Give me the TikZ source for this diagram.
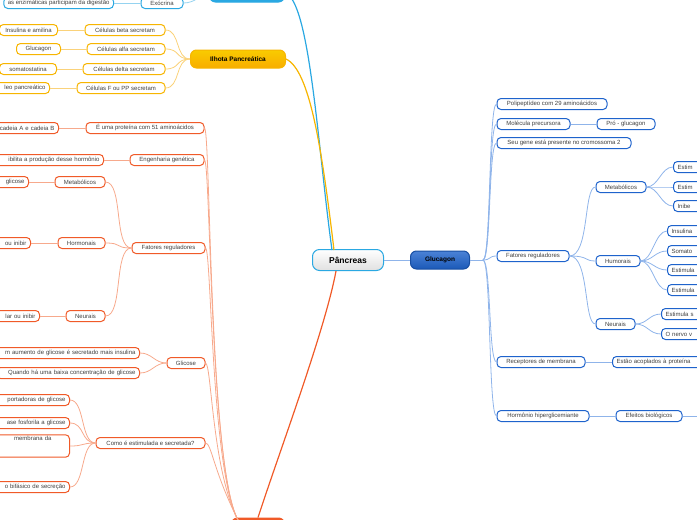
\documentclass[tikz,border=0pt]{standalone}
\usepackage{fontspec}
\setmainfont{Liberation Sans}
\definecolor{bbd}{HTML}{1E63CC}
\definecolor{bln}{HTML}{8FB4EA}
\definecolor{obd}{HTML}{F05A28}
\definecolor{oln}{HTML}{F7A98C}
\definecolor{ybd}{HTML}{F7B500}
\definecolor{yln}{HTML}{FAD27A}
\definecolor{cbd}{HTML}{2AA8E2}
\begin{document}
\begin{tikzpicture}[x=1pt,y=-1pt,
  every node/.style={font=\fontsize{6}{7}\selectfont, text=black!75, inner ysep=1.5pt, inner xsep=4pt, minimum height=11pt, rounded corners=4pt, line width=1pt, fill=white},
  ob/.style={draw=obd},
  bb/.style={draw=bbd},
  yb/.style={draw=ybd},
  cb/.style={draw=cbd},
  oL/.style={draw=obd, anchor=east, align=right},
  bR/.style={draw=bbd, anchor=west, align=left, text width=60pt},
  yL/.style={draw=ybd, anchor=east, align=right},
  ol/.style={draw=oln, line width=0.8pt},
  bl/.style={draw=bln, line width=0.8pt},
  yl/.style={draw=yln, line width=0.8pt},
]
\useasboundingbox (0,0) rectangle (697,520);
\clip (0,0) rectangle (697,520);

% main nodes
\node[draw=cbd, top color=white, bottom color=black!12, minimum width=71pt, minimum height=21pt, rounded corners=7pt, font=\fontsize{8.5}{9}\selectfont\bfseries, text=black] (p) at (348,260) {Pâncreas};
\node[draw=bbd!80!black, top color=bbd!80, bottom color=bbd!90!black, minimum width=59pt, minimum height=18pt, rounded corners=6pt, font=\fontsize{6.5}{7}\selectfont\bfseries, text=black] (g) at (440,260) {Glucagon};
\node[draw=ybd, top color=ybd!70!yellow, bottom color=ybd!85!orange, minimum width=95pt, minimum height=18pt, rounded corners=6pt, font=\fontsize{6.5}{7}\selectfont\bfseries, text=black] (ih) at (238,59) {Ilhota Pancreática};
\node[draw=cbd, fill=cbd, minimum width=75pt, minimum height=18pt, rounded corners=6pt] (ex0) at (247,-7) {};
\node[draw=obd, fill=obd, minimum width=53pt, minimum height=18pt, rounded corners=6pt] (bo) at (258,527) {};
\coordinate (boin) at (238,520);

% trunks to Pancreas
\draw[draw=cbd, line width=1.2pt] (ex0.east) .. controls (310,0) and (318,150) .. (332,250);
\draw[draw=ybd, line width=1.2pt] (ih.east) .. controls (310,70) and (322,150) .. (334,250);
\draw[draw=obd, line width=1.2pt] (336,271) .. controls (325,330) and (280,450) .. (bo.north);
\draw[bl, line width=1pt] (p.east) -- (g.west);

% top cyan
\node[cb, minimum width=42pt] (exo) at (162,3) {Exócrina};
\node[draw=cbd, anchor=east, align=right] (exl) at (114,3) {as enzimáticas participam da digestão};
\draw[draw=cbd!50, line width=0.8pt] (exo.west) -- (exl.east);
\draw[draw=cbd!50, line width=0.8pt] (exo.east) .. controls (195,3) and (200,-5) .. (ex0.west);

% yellow
\foreach \n/\y/\l/\r/\lt in {y1/30/85/165/Células beta secretam,y2/49/87/165/Células alfa secretam,y3/69/83/165/Células delta secretam,y4/88/77/165/Células F ou PP secretam}{
  \node[yb, minimum width=\r pt-\l pt] (\n) at ({(\l+\r)/2},\y) {\lt};
  \draw[yl] (\n.east) .. controls +(15,0) and +(-15,0) .. (ih.west);
}
\node[yL, minimum width=58pt] (y1l) at (58,30) {Insulina e amilina};
\node[yL, minimum width=44pt] (y2l) at (61,49) {Glucagon};
\node[yL, minimum width=57pt] (y3l) at (57,69) {somatostatina};
\node[yL, text width=60pt] (y4l) at (50,88) {leo pancreático};
\foreach \a in {1,2,3,4}{\draw[yl] (y\a.west) -- (y\a l.east);}

% orange
\node[ob, minimum width=118pt] (o1) at (145,128) {É uma proteína com 51 aminoácidos};
\node[oL, text width=70pt] (o1l) at (59,128) {cadeia A e cadeia B};
\node[ob, minimum width=74pt] (o2) at (167,160) {Engenharia genética};
\node[oL, text width=110pt] (o2l) at (104,160) {ibilita a produção desse hormônio};
\node[ob, minimum width=73pt] (o3) at (168.5,248) {Fatores reguladores};
\node[ob, minimum width=50pt] (o3a) at (80,182) {Metabólicos};
\node[oL, text width=30pt] (o3al) at (29,182) {glicose};
\node[ob, minimum width=47pt] (o3b) at (81.5,243) {Hormonais};
\node[oL, text width=30pt] (o3bl) at (31,243) {ou inibir};
\node[ob, minimum width=39pt] (o3c) at (85.5,316) {Neurais};
\node[oL, text width=40pt] (o3cl) at (40,316) {lar ou inibir};
\node[ob, minimum width=38pt] (o4) at (186,363) {Glicose};
\node[oL, text width=150pt] (o4a) at (140,353) {m aumento de glicose é secretado mais insulina};
\node[oL, text width=135pt] (o4b) at (140,373) {Quando há uma baixa concentração de glicose};
\node[ob, minimum width=109pt] (o5) at (150.5,443) {Como é estimulada e secretada?};
\node[oL, text width=70pt] (o5a) at (70,400) {portadoras de glicose};
\node[oL, text width=70pt] (o5b) at (70,423) {ase fosforila a glicose};
\node[oL, text width=70pt, minimum height=19pt, inner xsep=18pt] (o5c) at (70,446) {membrana da\\[6pt]\strut};
\node[oL, text width=70pt] (o5d) at (70,487) {o bifásico de secreção};
\foreach \a/\b in {o1/o1l,o2/o2l,o3a/o3al,o3b/o3bl,o3c/o3cl}{\draw[ol] (\a.west) -- (\b.east);}
\foreach \c in {o3a,o3b,o3c}{\draw[ol] (\c.east) .. controls +(18,0) and +(-18,0) .. (o3.west);}
\foreach \c in {o4a,o4b}{\draw[ol] (\c.east) .. controls +(12,0) and +(-12,0) .. (o4.west);}
\foreach \c in {o5a,o5b,o5c,o5d}{\draw[ol] (\c.east) .. controls +(15,0) and +(-15,0) .. (o5.west);}
\foreach \c/\k in {o1/209,o2/210,o3/211,o4/212,o5/213}{\draw[ol] (\c.east) .. controls +(6,0) and (\k,470) .. (boin);}

% blue
\coordinate (bt) at (483,260);
\draw[bl, line width=1pt] (g.east) -- (bt);
\node[bb, minimum width=110pt] (b1) at (552,104) {Polipeptídeo com 29 aminoácidos};
\node[bb, minimum width=73pt] (b2) at (533.5,124) {Molécula precursora};
\node[bb, minimum width=58pt] (b2a) at (626,124) {Pró - glucagon};
\node[bb, minimum width=134pt] (b3) at (564,143) {Seu gene está presente no cromossoma 2};
\node[bb, minimum width=72pt] (b4) at (533,256) {Fatores reguladores};
\node[bb, minimum width=50pt] (b4a) at (621,187) {Metabólicos};
\node[bb, minimum width=44pt] (b4b) at (618,261) {Humorais};
\node[bb, minimum width=39pt] (b4c) at (615.5,324) {Neurais};
\node[bb, minimum width=88pt] (b5) at (541,362) {Receptores de membrana};
\node[bR, text width=100pt] (b5a) at (612,362) {Estão acoplados à proteína};
\node[bb, minimum width=92pt] (b6) at (543,416) {Hormônio hiperglicemiante};
\node[bb, minimum width=66pt] (b6a) at (649,416) {Efeitos biológicos};
\coordinate (b6e) at (697,416);
\foreach \c in {b1,b2,b3,b4,b5,b6}{\draw[bl] (bt) .. controls +(8,0) and +(-8,0) .. (\c.west);}
\draw[bl] (b2.east) -- (b2a.west);
\draw[bl] (b5.east) -- (b5a.west);
\draw[bl] (b6.east) -- (b6a.west);
\draw[bl] (b6a.east) -- (b6e);
\foreach \c in {b4a,b4b,b4c}{\draw[bl] (b4.east) .. controls +(20,0) and +(-12,0) .. (\c.west);}
\foreach \t/\y in {Estim/167,Estim/187,Inibe/206}{
  \node[bR] (m\y) at (673,\y) {\t};
  \draw[bl] (b4a.east) .. controls +(12,0) and +(-12,0) .. (m\y.west);}
\foreach \t/\y in {Insulina/231,Somato/251,Estimula/270,Estimula/290}{
  \node[bR] (h\y) at (667,\y) {\t};
  \draw[bl] (b4b.east) .. controls +(12,0) and +(-12,0) .. (h\y.west);}
\foreach \t/\y in {Estimula s/314,O nervo v/334}{
  \node[bR] (n\y) at (661,\y) {\t};
  \draw[bl] (b4c.east) .. controls +(12,0) and +(-12,0) .. (n\y.west);}
\end{tikzpicture}
\end{document}
